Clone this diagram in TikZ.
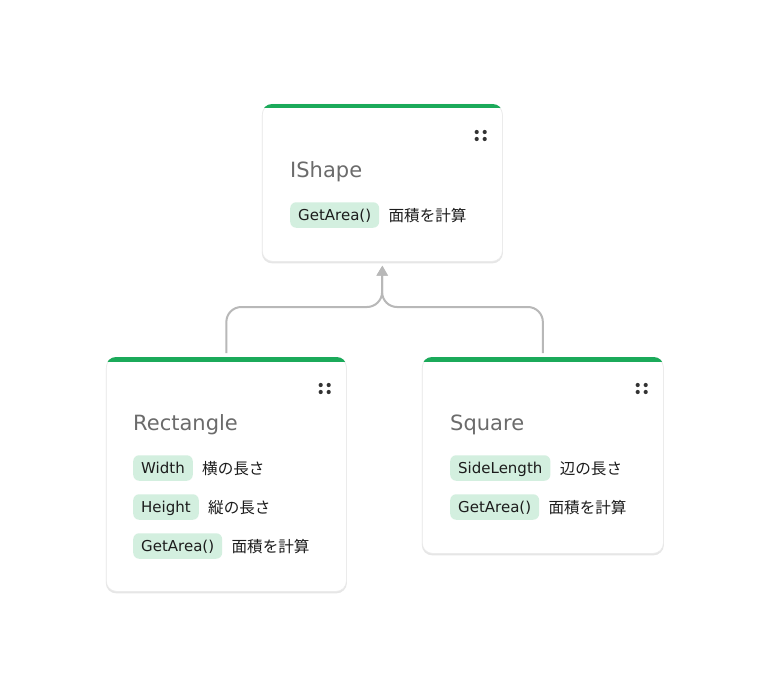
\documentclass[tikz,border=0pt]{standalone}
\usepackage{fontspec}
\setmainfont{DejaVu Sans}
\newfontfamily\jp{Noto Sans CJK JP}
\usetikzlibrary{arrows.meta}
\definecolor{barg}{HTML}{1BAA5A}
\definecolor{pillg}{HTML}{D3EFDF}
\definecolor{titlegray}{HTML}{6B6B6B}
\definecolor{ink}{HTML}{1C1C1C}
\definecolor{conng}{HTML}{B8B8B8}
\definecolor{dotc}{HTML}{333333}
\definecolor{shad}{HTML}{E6E6E6}
\definecolor{edge}{HTML}{EAEAEA}
\begin{document}
\begin{tikzpicture}[x=1pt,y=-1pt,
 card/.style={draw=edge, line width=0.7pt, fill=white, rounded corners=10pt, anchor=north west, inner sep=0pt,
   preaction={draw=shad, fill=shad, line width=1pt, transform canvas={yshift=-1.5pt}}},
 ttl/.style={anchor=base west, inner sep=0pt, font=\fontsize{21}{24}\selectfont, text=titlegray},
 pill/.style={anchor=west, fill=pillg, rounded corners=6pt, inner xsep=8pt, inner ysep=7pt, text height=11.5pt, text depth=0pt, font=\fontsize{15}{18}\selectfont, text=ink},
 desc/.style={anchor=west, inner sep=0pt, text height=12pt, text depth=0pt, font=\jp\fontsize{15.6}{18}\selectfont, text=ink},
 conn/.style={draw=conng, line width=2pt, rounded corners=15pt},
 dotn/.style={fill=dotc, circle, inner sep=0pt, minimum size=4.2pt}
]
\useasboundingbox (0,0) rectangle (768,698);
\fill[white] (0,0) rectangle (768,698);

% cards
\node[card, minimum width=240pt, minimum height=157pt] (ishape) at (262,104) {};
\node[card, minimum width=240pt, minimum height=234pt] (rect) at (106,357) {};
\node[card, minimum width=241pt, minimum height=196pt] (square) at (422,357) {};

% green top bars
\foreach \c in {ishape,rect,square}{
  \begin{scope}
    \clip[rounded corners=10pt] (\c.north west) rectangle (\c.south east);
    \fill[barg] (\c.north west) rectangle ([yshift=-4.5pt]\c.north east);
  \end{scope}
}

% dots
\foreach \c in {ishape,rect,square}{
  \node[dotn] (\c-d1) at ([xshift=-26pt,yshift=-28pt]\c.north east) {};
  \node[dotn] (\c-d2) at ([xshift=-18pt,yshift=-28pt]\c.north east) {};
  \node[dotn] (\c-d3) at ([xshift=-26pt,yshift=-35pt]\c.north east) {};
  \node[dotn] (\c-d4) at ([xshift=-18pt,yshift=-35pt]\c.north east) {};
}

% IShape
\node[ttl] (t1) at (290,177) {IShape};
\node[pill] (p11) at (290,215) {GetArea()};
\node[desc] (d11) at ([xshift=9pt]p11.east) {面積を計算};

% Rectangle
\node[ttl] (t2) at (133,430) {Rectangle};
\node[pill] (p21) at (133,468) {Width};
\node[desc] (d21) at ([xshift=9pt]p21.east) {横の長さ};
\node[pill] (p22) at (133,507) {Height};
\node[desc] (d22) at ([xshift=9pt]p22.east) {縦の長さ};
\node[pill] (p23) at (133,546) {GetArea()};
\node[desc] (d23) at ([xshift=9pt]p23.east) {面積を計算};

% Square
\node[ttl] (t3) at (450,430) {Square};
\node[pill] (p31) at (450,468) {SideLength};
\node[desc] (d31) at ([xshift=9pt]p31.east) {辺の長さ};
\node[pill] (p32) at (450,507) {GetArea()};
\node[desc] (d32) at ([xshift=9pt]p32.east) {面積を計算};

% connectors
\coordinate (j) at (382,307);
\draw[conn, -{Triangle[length=10pt,width=11pt]}, shorten >=4pt] ([yshift=4pt]rect.north) |- (j) -- (ishape.south);
\draw[conn, -{Triangle[length=10pt,width=11pt]}, shorten >=4pt] ([yshift=4pt]square.north) |- (j) -- (ishape.south);
\end{tikzpicture}
\end{document}
